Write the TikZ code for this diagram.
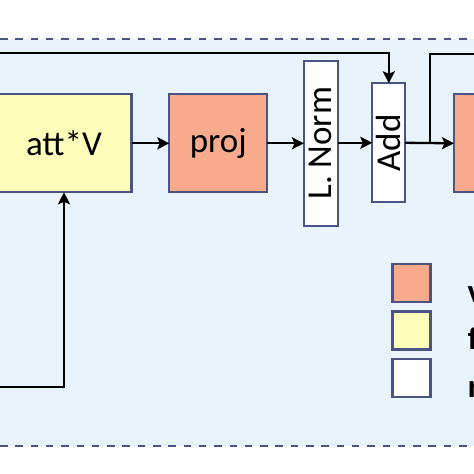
\documentclass[tikz,border=0pt]{standalone}
\usepackage{fontspec}
\setmainfont{Carlito}
\newfontfamily\legendfont{Liberation Sans}
\usetikzlibrary{arrows.meta}
\definecolor{bgblue}{HTML}{E8F3FB}
\definecolor{edgeblue}{HTML}{4A5585}
\definecolor{salmon}{HTML}{F8AA8C}
\definecolor{paleyellow}{HTML}{FFFFBB}
\tikzset{
  blk/.style={draw=edgeblue, line width=2.2pt, inner sep=0pt, outer sep=0pt, font=\fontsize{35}{35}\selectfont},
  wbox/.style={blk, fill=salmon},
  fbox/.style={blk, fill=paleyellow},
  nbox/.style={blk, fill=white},
  conn/.style={line width=2.3pt, draw=black},
  arr/.style={conn, -{Stealth[length=12pt, width=12pt, inset=2.5pt]}},
  legtxt/.style={anchor=base west, inner sep=0pt, font=\legendfont\bfseries\fontsize{30}{30}\selectfont},
  sep/.style={draw=edgeblue, line width=2.2pt, dash pattern=on 7.5pt off 7.8pt}
}
\begin{document}
\begin{tikzpicture}[x=1pt,y=-1pt]
\useasboundingbox (0,0) rectangle (474,474);
\clip (0,0) rectangle (474,474);
\fill[white] (0,0) rectangle (474,474);
\fill[bgblue] (-5,39) rectangle (480,446);
\draw[sep] (0,39) -- (480,39);
\draw[sep] (0,446) -- (480,446);

% blocks
\node[fbox, minimum width=135pt, minimum height=98pt] (attv) at (64,143.3) {att*V};
\node[wbox, minimum width=98pt, minimum height=98pt] (proj) at (218.3,143.3) {proj};
\node[nbox, minimum width=33.7pt, minimum height=164.7pt] (lnorm) at (320.8,143.3) {\rotatebox{90}{L. Norm}};
\node[nbox, minimum width=33pt, minimum height=119pt] (add) at (388.8,142.8) {\rotatebox{90}{Add}};
\node[wbox, minimum width=98pt, minimum height=98pt] (rbox) at (503,143.3) {};

% legend
\node[wbox, minimum width=38pt, minimum height=38pt] (lw) at (411.5,283) {};
\node[fbox, minimum width=38pt, minimum height=38pt] (lf) at (411.5,330.5) {};
\node[nbox, minimum width=38pt, minimum height=38pt] (ln) at (411.5,378.2) {};
\node[legtxt] (tw) at (467.5,302) {v};
\node[legtxt] (tf) at (467.5,349.5) {f};
\node[legtxt] (tn) at (467.5,397) {n};

% connectors
\coordinate (tl) at (-5,53.3);
\coordinate (bl) at (-5,386.7);
\coordinate (br) at (430,143.3);
\coordinate (tr) at (480,54);
\draw[arr] (tl) -| (add.north);
\draw[arr] (bl) -| (attv.south);
\draw[arr] (attv.east) -- (proj.west);
\draw[arr] (proj.east) -- (lnorm.west);
\draw[arr] (lnorm.east |- add.west) -- (add.west);
\draw[arr] (add.east) -- (rbox.west);
\draw[conn] (br) |- (tr);
\end{tikzpicture}
\end{document}
